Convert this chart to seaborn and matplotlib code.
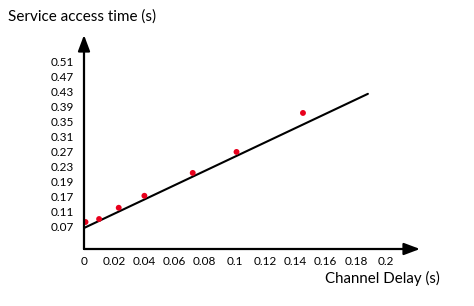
import matplotlib
matplotlib.use("Agg")
import matplotlib.pyplot as plt
import seaborn as sns
import numpy as np
import pandas as pd

# data
delay = [0.001, 0.010, 0.023, 0.040, 0.072, 0.101, 0.145]
access = [0.083, 0.091, 0.121, 0.153, 0.214, 0.270, 0.374]
fit_x = [0.0, 0.188]
fit_y = [0.067, 0.425]
x_ticks = [0, 0.02, 0.04, 0.06, 0.08, 0.1, 0.12, 0.14, 0.16, 0.18, 0.2]
x_labels = ["0", "0.02", "0.04", "0.06", "0.08", "0.1", "0.12", "0.14", "0.16", "0.18", "0.2"]
y_ticks = [0.07, 0.11, 0.15, 0.19, 0.23, 0.27, 0.31, 0.35, 0.39, 0.43, 0.47, 0.51]
y_labels = ["0.07", "0.11", "0.17", "0.19", "0.23", "0.27", "0.31", "0.35", "0.39", "0.43", "0.47", "0.51"]

sns.set_theme(style="white")
plt.rcParams['font.family'] = ['Lato', 'DejaVu Sans']

fig = plt.figure(figsize=(4.74, 3.06), dpi=100)
ax = fig.add_axes([84/474, 1-249/306, (420-84)/474, (249-35)/306])

pts = pd.DataFrame({"delay": delay, "access": access})
fit = pd.DataFrame({"x": fit_x, "y": fit_y})
sns.lineplot(data=fit, x="x", y="y", ax=ax, color="black", lw=1.5)
sns.scatterplot(data=pts, x="delay", y="access", ax=ax, color="#e8001c", s=18, edgecolor="none", zorder=3)

ax.set_xlim(0, 0.2225)
ax.set_ylim(0.011, 0.582)
for s in ax.spines.values():
    s.set_visible(False)
ax.annotate('', xy=(1, 0), xytext=(0, 0), xycoords='axes fraction',
            arrowprops=dict(arrowstyle='-|>,head_length=0.8,head_width=0.3', color='black', lw=1.6, shrinkA=0, shrinkB=0))
ax.annotate('', xy=(0, 1), xytext=(0, 0), xycoords='axes fraction',
            arrowprops=dict(arrowstyle='-|>,head_length=0.8,head_width=0.3', color='black', lw=1.6, shrinkA=0, shrinkB=0))

ax.set_xticks(x_ticks)
ax.set_xticklabels(x_labels, fontsize=8.5, color="black")
ax.set_yticks(y_ticks)
ax.set_yticklabels(y_labels, fontsize=8.5, color="black")
ax.tick_params(axis='both', length=0)
ax.tick_params(axis='x', pad=5)
ax.tick_params(axis='y', pad=7)
ax.set_xlabel("")
ax.set_ylabel("")
ax.grid(False)

fig.text(8/474, 1-17/306, "Service access time (s)", fontsize=11, ha="left", va="center", color="black")
fig.text(325/474, 1-278/306, "Channel Delay (s)", fontsize=10.8, ha="left", va="center", color="black")

fig.savefig("out.png", dpi=100)
